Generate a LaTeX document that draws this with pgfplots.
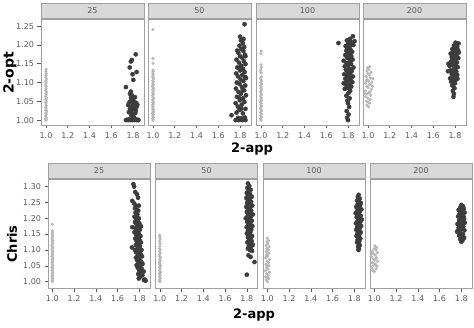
\documentclass[border=0pt]{standalone}
\usepackage{fontspec}
\setmainfont{DejaVu Sans}
\usepackage{pgfplots}
\pgfplotsset{compat=1.18}
\definecolor{lpt}{HTML}{B8B8B8}
\definecolor{dpt}{HTML}{3C3C3C}
\definecolor{frm}{HTML}{A0A0A0}
\definecolor{strip}{HTML}{D9D9D9}
\definecolor{ticktxt}{HTML}{5A5A5A}
\pgfplotsset{
 panel/.style={scale only axis, anchor=south west,
   axis line style={draw=frm, line width=0.8pt},
   xtick={1,1.2,1.4,1.6,1.8}, xticklabels={1.0,1.2,1.4,1.6,1.8},
   tick pos=left, tick align=outside, major tick length=3.5pt,
   tick style={draw=ticktxt, line width=0.6pt},
   ticklabel style={font=\fontsize{8}{9}\selectfont, text=ticktxt},
   xticklabel style={yshift=-1pt}},
 toprow/.style={panel, width=103pt, height=106pt, xmin=0.954, xmax=1.901, ymin=0.987, ymax=1.269},
 botrow/.style={panel, width=102pt, height=109pt, xmin=0.960, xmax=1.898, ymin=0.980, ymax=1.324},
 lp/.style={only marks, mark=*, mark size=1.4pt, color=lpt, mark options={draw=lpt, fill=lpt}},
 dp/.style={only marks, mark=*, mark size=2.1pt, color=dpt, mark options={draw=dpt, fill=dpt}},
}
\newcommand{\strip}[2]{%
 \draw[draw=frm, fill=strip, line width=0.8pt] ([yshift=1pt]#1.north west) rectangle ([yshift=16pt]#1.north east);
 \node[font=\fontsize{8}{9}\selectfont, text=ticktxt] at ([yshift=8.5pt]#1.north) {#2};}
\begin{document}
\begin{tikzpicture}
\useasboundingbox (0,0) rectangle (474pt,327pt);
% ---------------- top row: 2-opt ----------------
\begin{axis}[toprow, name=p1, at={(41pt,202pt)}, ytick={1,1.05,1.1,1.15,1.2,1.25}, yticklabels={1.00,1.05,1.10,1.15,1.20,1.25}]
\addplot[lp] coordinates {(1.000,1.000)(0.998,1.004)(1.003,1.007)(0.997,1.011)(1.002,1.015)(0.999,1.019)(1.004,1.022)(0.998,1.026)(1.001,1.030)(0.997,1.034)(1.003,1.038)(1.000,1.043)(0.998,1.047)(1.002,1.051)(0.999,1.055)(1.004,1.059)(0.997,1.063)(1.001,1.067)(0.999,1.071)(1.003,1.075)(0.998,1.079)(1.000,1.084)(1.002,1.089)(0.997,1.094)(1.001,1.099)(0.999,1.104)(1.003,1.109)(0.998,1.114)(1.000,1.119)(1.002,1.124)(0.999,1.129)(1.001,1.135)(1.000,1.002)(1.002,1.025)(0.999,1.048)};
\addplot[dp] coordinates {(1.735,1.000)(1.745,1.001)(1.755,1.000)(1.765,1.002)(1.775,1.000)(1.785,1.001)(1.795,1.000)(1.805,1.002)(1.815,1.000)(1.825,1.001)(1.835,1.000)(1.845,1.001)(1.850,1.000)(1.790,1.003)(1.810,1.004)
(1.755,1.040)(1.765,1.046)(1.772,1.030)(1.781,1.024)(1.790,1.036)(1.802,1.041)(1.812,1.031)(1.821,1.019)(1.798,1.015)(1.782,1.060)(1.793,1.054)(1.808,1.050)(1.828,1.046)(1.818,1.061)(1.772,1.070)(1.780,1.076)(1.803,1.010)(1.832,1.035)(1.840,1.041)(1.762,1.021)(1.790,1.066)(1.812,1.006)(1.786,1.012)(1.776,1.050)(1.826,1.026)(1.795,1.028)
(1.735,1.088)(1.770,1.140)(1.780,1.156)(1.790,1.160)(1.825,1.175)(1.796,1.122)(1.803,1.107)(1.833,1.128)};
\end{axis}
\strip{p1}{25}
\begin{axis}[toprow, name=p2, at={(148pt,202pt)}, ytick=\empty]
\addplot[lp] coordinates {(1.000,1.000)(0.996,1.004)(1.004,1.008)(0.998,1.011)(1.002,1.015)(0.995,1.018)(1.005,1.022)(0.999,1.025)(1.003,1.029)(0.997,1.032)(1.001,1.036)(0.996,1.040)(1.004,1.043)(0.999,1.047)(1.002,1.050)(0.997,1.054)(1.005,1.058)(1.000,1.061)(0.996,1.065)(1.003,1.069)(0.998,1.072)(1.002,1.076)(0.997,1.080)(1.004,1.083)(1.000,1.087)(0.996,1.091)(1.003,1.094)(0.999,1.098)(1.002,1.102)(0.997,1.105)(1.005,1.109)(1.000,1.113)(0.998,1.117)(1.003,1.121)(0.999,1.125)(1.002,1.129)(1.000,1.133)(1.001,1.151)(0.999,1.164)(1.000,1.241)};
\addplot[dp] coordinates {(1.760,1.000)(1.775,1.001)(1.790,1.000)(1.805,1.002)(1.820,1.000)(1.835,1.001)(1.850,1.000)(1.782,1.006)(1.812,1.005)(1.845,1.007)(1.722,1.013)
(1.768,1.020)(1.826,1.018)(1.795,1.027)(1.850,1.030)(1.780,1.036)(1.815,1.041)(1.760,1.045)(1.840,1.048)(1.798,1.053)(1.828,1.058)(1.772,1.062)(1.855,1.066)(1.808,1.070)(1.786,1.075)(1.838,1.079)(1.762,1.084)(1.818,1.088)(1.848,1.092)(1.795,1.096)(1.770,1.100)(1.830,1.104)(1.805,1.108)(1.855,1.112)(1.782,1.116)(1.820,1.120)(1.765,1.124)(1.842,1.128)(1.800,1.132)(1.828,1.136)(1.775,1.140)(1.812,1.145)(1.850,1.149)(1.790,1.153)(1.835,1.157)(1.768,1.161)(1.820,1.166)(1.800,1.170)(1.845,1.174)(1.785,1.179)(1.830,1.184)(1.812,1.189)(1.838,1.194)(1.795,1.198)(1.826,1.205)(1.808,1.212)(1.832,1.216)(1.800,1.222)(1.842,1.255)(1.790,1.060)(1.845,1.115)(1.775,1.185)(1.810,1.030)(1.825,1.080)(1.795,1.140)(1.850,1.170)};
\end{axis}
\strip{p2}{50}
\begin{axis}[toprow, name=p3, at={(256pt,202pt)}, ytick=\empty]
\addplot[lp] coordinates {(1.000,1.000)(0.995,1.004)(1.005,1.008)(0.998,1.012)(1.003,1.016)(0.994,1.020)(1.006,1.024)(1.000,1.028)(0.996,1.032)(1.004,1.036)(0.999,1.040)(1.002,1.044)(0.995,1.048)(1.006,1.052)(0.998,1.056)(1.003,1.060)(0.996,1.064)(1.005,1.068)(1.000,1.072)(0.997,1.076)(1.004,1.080)(0.999,1.084)(1.002,1.088)(0.995,1.092)(1.006,1.096)(0.998,1.100)(1.003,1.104)(1.000,1.108)(0.997,1.112)(1.004,1.115)(1.001,1.126)(0.998,1.133)(1.003,1.140)(1.000,1.147)(0.999,1.177)(1.002,1.184)};
\addplot[dp] coordinates {(1.800,1.000)(1.792,1.006)(1.805,1.015)(1.788,1.024)(1.810,1.035)(1.800,1.045)(1.795,1.052)(1.815,1.058)(1.785,1.065)(1.805,1.072)(1.820,1.078)
(1.770,1.083)(1.800,1.086)(1.830,1.089)(1.785,1.092)(1.815,1.095)(1.760,1.098)(1.840,1.101)(1.795,1.104)(1.825,1.107)(1.775,1.110)(1.810,1.113)(1.845,1.116)(1.790,1.119)(1.765,1.122)(1.820,1.125)(1.800,1.128)(1.835,1.131)(1.780,1.134)(1.812,1.137)(1.850,1.140)(1.770,1.143)(1.798,1.146)(1.828,1.149)(1.785,1.152)(1.818,1.155)(1.760,1.158)(1.842,1.161)(1.805,1.164)(1.790,1.167)(1.830,1.170)(1.775,1.173)(1.815,1.176)(1.800,1.179)(1.838,1.182)(1.785,1.185)(1.822,1.188)(1.795,1.191)(1.810,1.194)(1.778,1.197)(1.835,1.200)(1.805,1.204)(1.825,1.208)(1.790,1.212)(1.818,1.216)(1.712,1.205)(1.860,1.210)(1.850,1.200)(1.845,1.223)(1.808,1.120)(1.822,1.160)(1.780,1.100)};
\end{axis}
\strip{p3}{100}
\begin{axis}[toprow, name=p4, at={(363pt,202pt)}, ytick=\empty]
\addplot[lp] coordinates {(1.005,1.035)(0.990,1.040)(1.015,1.045)(0.985,1.050)(1.020,1.054)(1.000,1.058)(0.980,1.062)(1.025,1.066)(0.995,1.070)(1.010,1.074)(0.975,1.078)(1.030,1.082)(1.000,1.086)(0.988,1.090)(1.018,1.094)(0.978,1.098)(1.035,1.101)(1.005,1.104)(0.992,1.108)(1.022,1.112)(0.983,1.116)(1.012,1.120)(0.998,1.124)(1.028,1.127)(0.990,1.131)(1.008,1.135)(0.995,1.139)(1.015,1.142)(1.040,1.090)(0.972,1.070)(1.045,1.110)(1.002,1.048)(1.012,1.095)(0.985,1.105)(1.020,1.075)};
\addplot[dp] coordinates {(1.785,1.062)(1.790,1.070)(1.780,1.078)(1.795,1.085)(1.775,1.092)(1.800,1.098)(1.765,1.102)(1.790,1.105)(1.810,1.108)(1.755,1.111)(1.780,1.114)(1.800,1.117)(1.820,1.120)(1.770,1.123)(1.790,1.126)(1.812,1.129)(1.760,1.132)(1.785,1.135)(1.805,1.138)(1.825,1.141)(1.750,1.144)(1.775,1.147)(1.798,1.150)(1.818,1.153)(1.765,1.156)(1.788,1.159)(1.810,1.162)(1.830,1.165)(1.770,1.168)(1.795,1.171)(1.815,1.174)(1.760,1.177)(1.782,1.180)(1.805,1.183)(1.828,1.186)(1.775,1.189)(1.798,1.192)(1.820,1.195)(1.790,1.198)(1.812,1.201)(1.832,1.204)(1.805,1.206)(1.740,1.150)(1.735,1.130)(1.835,1.180)(1.800,1.125)(1.785,1.170)(1.808,1.145)(1.822,1.110)(1.778,1.160)};
\end{axis}
\strip{p4}{200}
% ---------------- bottom row: Chris ----------------
\begin{axis}[botrow, name=q1, at={(48pt,39pt)}, ytick={1,1.05,1.1,1.15,1.2,1.25,1.3}, yticklabels={1.00,1.05,1.10,1.15,1.20,1.25,1.30}]
\addplot[lp] coordinates {(1.000,1.000)(0.998,1.005)(1.003,1.010)(0.997,1.015)(1.002,1.020)(0.999,1.025)(1.004,1.030)(0.998,1.035)(1.001,1.040)(0.997,1.045)(1.003,1.050)(1.000,1.055)(0.998,1.060)(1.002,1.065)(0.999,1.070)(1.004,1.075)(0.997,1.080)(1.001,1.085)(0.999,1.090)(1.003,1.095)(0.998,1.100)(1.000,1.105)(1.002,1.110)(0.997,1.115)(1.001,1.120)(0.999,1.125)(1.003,1.130)(0.998,1.135)(1.000,1.140)(1.002,1.145)(0.999,1.150)(1.001,1.155)(1.000,1.160)(1.000,1.181)(1.001,1.003)(0.999,1.018)(1.002,1.042)};
\addplot[dp] coordinates {(1.745,1.308)(1.752,1.300)(1.762,1.283)(1.778,1.276)(1.788,1.265)(1.735,1.255)(1.752,1.247)(1.768,1.240)(1.760,1.232)(1.775,1.228)(1.790,1.224)(1.765,1.218)(1.782,1.212)(1.755,1.205)(1.795,1.200)(1.770,1.196)(1.785,1.192)(1.760,1.188)(1.800,1.184)(1.775,1.180)(1.735,1.172)(1.790,1.176)(1.765,1.168)(1.805,1.164)(1.780,1.160)(1.755,1.156)(1.795,1.152)(1.770,1.148)(1.810,1.144)(1.785,1.140)(1.762,1.136)(1.800,1.132)(1.775,1.128)(1.815,1.124)(1.790,1.120)(1.768,1.116)(1.805,1.112)(1.732,1.108)(1.782,1.104)(1.820,1.100)(1.795,1.096)(1.772,1.092)(1.810,1.088)(1.788,1.084)(1.825,1.080)(1.768,1.076)(1.800,1.072)(1.780,1.068)(1.815,1.064)(1.792,1.060)(1.830,1.056)(1.775,1.052)(1.808,1.048)(1.785,1.044)(1.822,1.040)(1.798,1.036)(1.840,1.032)(1.812,1.028)(1.790,1.024)(1.828,1.020)(1.805,1.015)(1.795,1.010)(1.842,1.005)(1.858,1.003)(1.850,1.007)(1.770,1.205)(1.790,1.150)(1.805,1.090)(1.815,1.175)(1.780,1.130)(1.795,1.240)(1.760,1.100)(1.820,1.060)};
\end{axis}
\strip{q1}{25}
\begin{axis}[botrow, name=q2, at={(155.5pt,39pt)}, ytick=\empty]
\addplot[lp] coordinates {(1.000,1.000)(0.996,1.005)(1.004,1.010)(0.998,1.015)(1.003,1.020)(0.995,1.025)(1.005,1.030)(0.999,1.035)(1.002,1.040)(0.997,1.045)(1.004,1.050)(1.000,1.055)(0.996,1.060)(1.003,1.065)(0.998,1.070)(1.005,1.075)(1.000,1.080)(0.997,1.085)(1.003,1.090)(0.999,1.095)(1.002,1.100)(0.998,1.105)(1.000,1.112)(1.001,1.120)(0.999,1.128)(1.002,1.135)(1.000,1.141)(0.998,1.147)(1.001,1.002)(1.003,1.028)(0.999,1.058)};
\addplot[dp] coordinates {(1.810,1.310)(1.822,1.302)(1.805,1.296)(1.835,1.290)(1.815,1.285)(1.800,1.280)(1.830,1.276)(1.810,1.272)(1.845,1.268)(1.795,1.264)(1.825,1.260)(1.810,1.256)(1.838,1.252)(1.802,1.248)(1.820,1.244)(1.850,1.240)(1.795,1.236)(1.830,1.232)(1.810,1.228)(1.840,1.224)(1.800,1.220)(1.822,1.216)(1.855,1.212)(1.808,1.208)(1.835,1.204)(1.790,1.200)(1.820,1.196)(1.845,1.192)(1.805,1.188)(1.830,1.184)(1.815,1.180)(1.850,1.176)(1.798,1.172)(1.825,1.168)(1.840,1.164)(1.810,1.160)(1.832,1.156)(1.800,1.152)(1.820,1.148)(1.848,1.144)(1.810,1.140)(1.835,1.136)(1.822,1.132)(1.845,1.128)(1.805,1.124)(1.830,1.120)(1.855,1.116)(1.818,1.112)(1.838,1.108)(1.810,1.104)(1.828,1.100)(1.848,1.097)(1.815,1.083)(1.835,1.078)(1.870,1.062)(1.800,1.022)(1.825,1.250)(1.805,1.190)(1.840,1.170)(1.818,1.130)};
\end{axis}
\strip{q2}{50}
\begin{axis}[botrow, name=q3, at={(263pt,39pt)}, ytick=\empty]
\addplot[lp] coordinates {(1.000,1.000)(0.990,1.005)(1.012,1.010)(0.985,1.015)(1.008,1.020)(0.995,1.025)(1.018,1.030)(0.982,1.035)(1.005,1.040)(0.992,1.045)(1.015,1.050)(0.988,1.055)(1.010,1.060)(0.998,1.065)(1.020,1.070)(0.985,1.075)(1.003,1.080)(0.993,1.085)(1.014,1.090)(0.990,1.095)(1.008,1.100)(0.997,1.105)(1.016,1.110)(0.988,1.115)(1.004,1.120)(0.995,1.125)(1.010,1.130)(1.000,1.137)(1.002,1.012)(0.996,1.052)(1.006,1.088)};
\addplot[dp] coordinates {(1.840,1.274)(1.832,1.268)(1.850,1.262)(1.825,1.256)(1.845,1.252)(1.860,1.248)(1.830,1.244)(1.852,1.240)(1.818,1.236)(1.840,1.232)(1.865,1.228)(1.828,1.224)(1.848,1.220)(1.812,1.216)(1.838,1.212)(1.858,1.208)(1.822,1.204)(1.845,1.200)(1.868,1.196)(1.830,1.192)(1.852,1.188)(1.815,1.184)(1.840,1.180)(1.862,1.176)(1.825,1.172)(1.848,1.168)(1.818,1.164)(1.838,1.160)(1.858,1.156)(1.828,1.152)(1.845,1.148)(1.820,1.144)(1.840,1.140)(1.855,1.136)(1.830,1.132)(1.845,1.128)(1.825,1.124)(1.840,1.120)(1.850,1.115)(1.835,1.110)(1.842,1.105)(1.838,1.100)(1.855,1.190)(1.832,1.210)(1.848,1.155)};
\end{axis}
\strip{q3}{100}
\begin{axis}[botrow, name=q4, at={(370pt,39pt)}, ytick=\empty]
\addplot[lp] coordinates {(1.000,1.032)(0.985,1.036)(1.015,1.040)(0.975,1.044)(1.025,1.048)(0.995,1.052)(1.010,1.056)(0.980,1.060)(1.030,1.064)(1.000,1.068)(0.988,1.072)(1.020,1.076)(0.972,1.080)(1.008,1.084)(0.992,1.088)(1.028,1.092)(0.982,1.096)(1.015,1.100)(0.998,1.104)(1.022,1.108)(1.005,1.113)(0.990,1.058)(1.012,1.070)(0.978,1.090)(1.018,1.050)};
\addplot[dp] coordinates {(1.800,1.242)(1.815,1.238)(1.790,1.234)(1.822,1.230)(1.775,1.226)(1.805,1.222)(1.830,1.218)(1.785,1.214)(1.812,1.210)(1.770,1.206)(1.798,1.202)(1.825,1.198)(1.780,1.194)(1.808,1.190)(1.832,1.186)(1.765,1.182)(1.792,1.178)(1.818,1.174)(1.775,1.170)(1.802,1.166)(1.828,1.162)(1.760,1.158)(1.788,1.154)(1.815,1.150)(1.780,1.146)(1.805,1.142)(1.825,1.138)(1.790,1.134)(1.810,1.130)(1.800,1.126)(1.795,1.196)(1.812,1.168)(1.782,1.186)(1.820,1.205)(1.770,1.160)(1.808,1.176)};
\end{axis}
\strip{q4}{200}
% ---------------- axis titles ----------------
\node[font=\bfseries\fontsize{13}{14}\selectfont, anchor=base] at (252pt,174pt) {2-app};
\node[font=\bfseries\fontsize{13}{14}\selectfont, anchor=base] at (254pt,9pt) {2-app};
\node[font=\bfseries\fontsize{14}{15}\selectfont, rotate=90] at (10pt,254pt) {2-opt};
\node[font=\bfseries\fontsize{13}{14}\selectfont, rotate=90] at (12pt,83pt) {Chris};
\end{tikzpicture}
\end{document}
